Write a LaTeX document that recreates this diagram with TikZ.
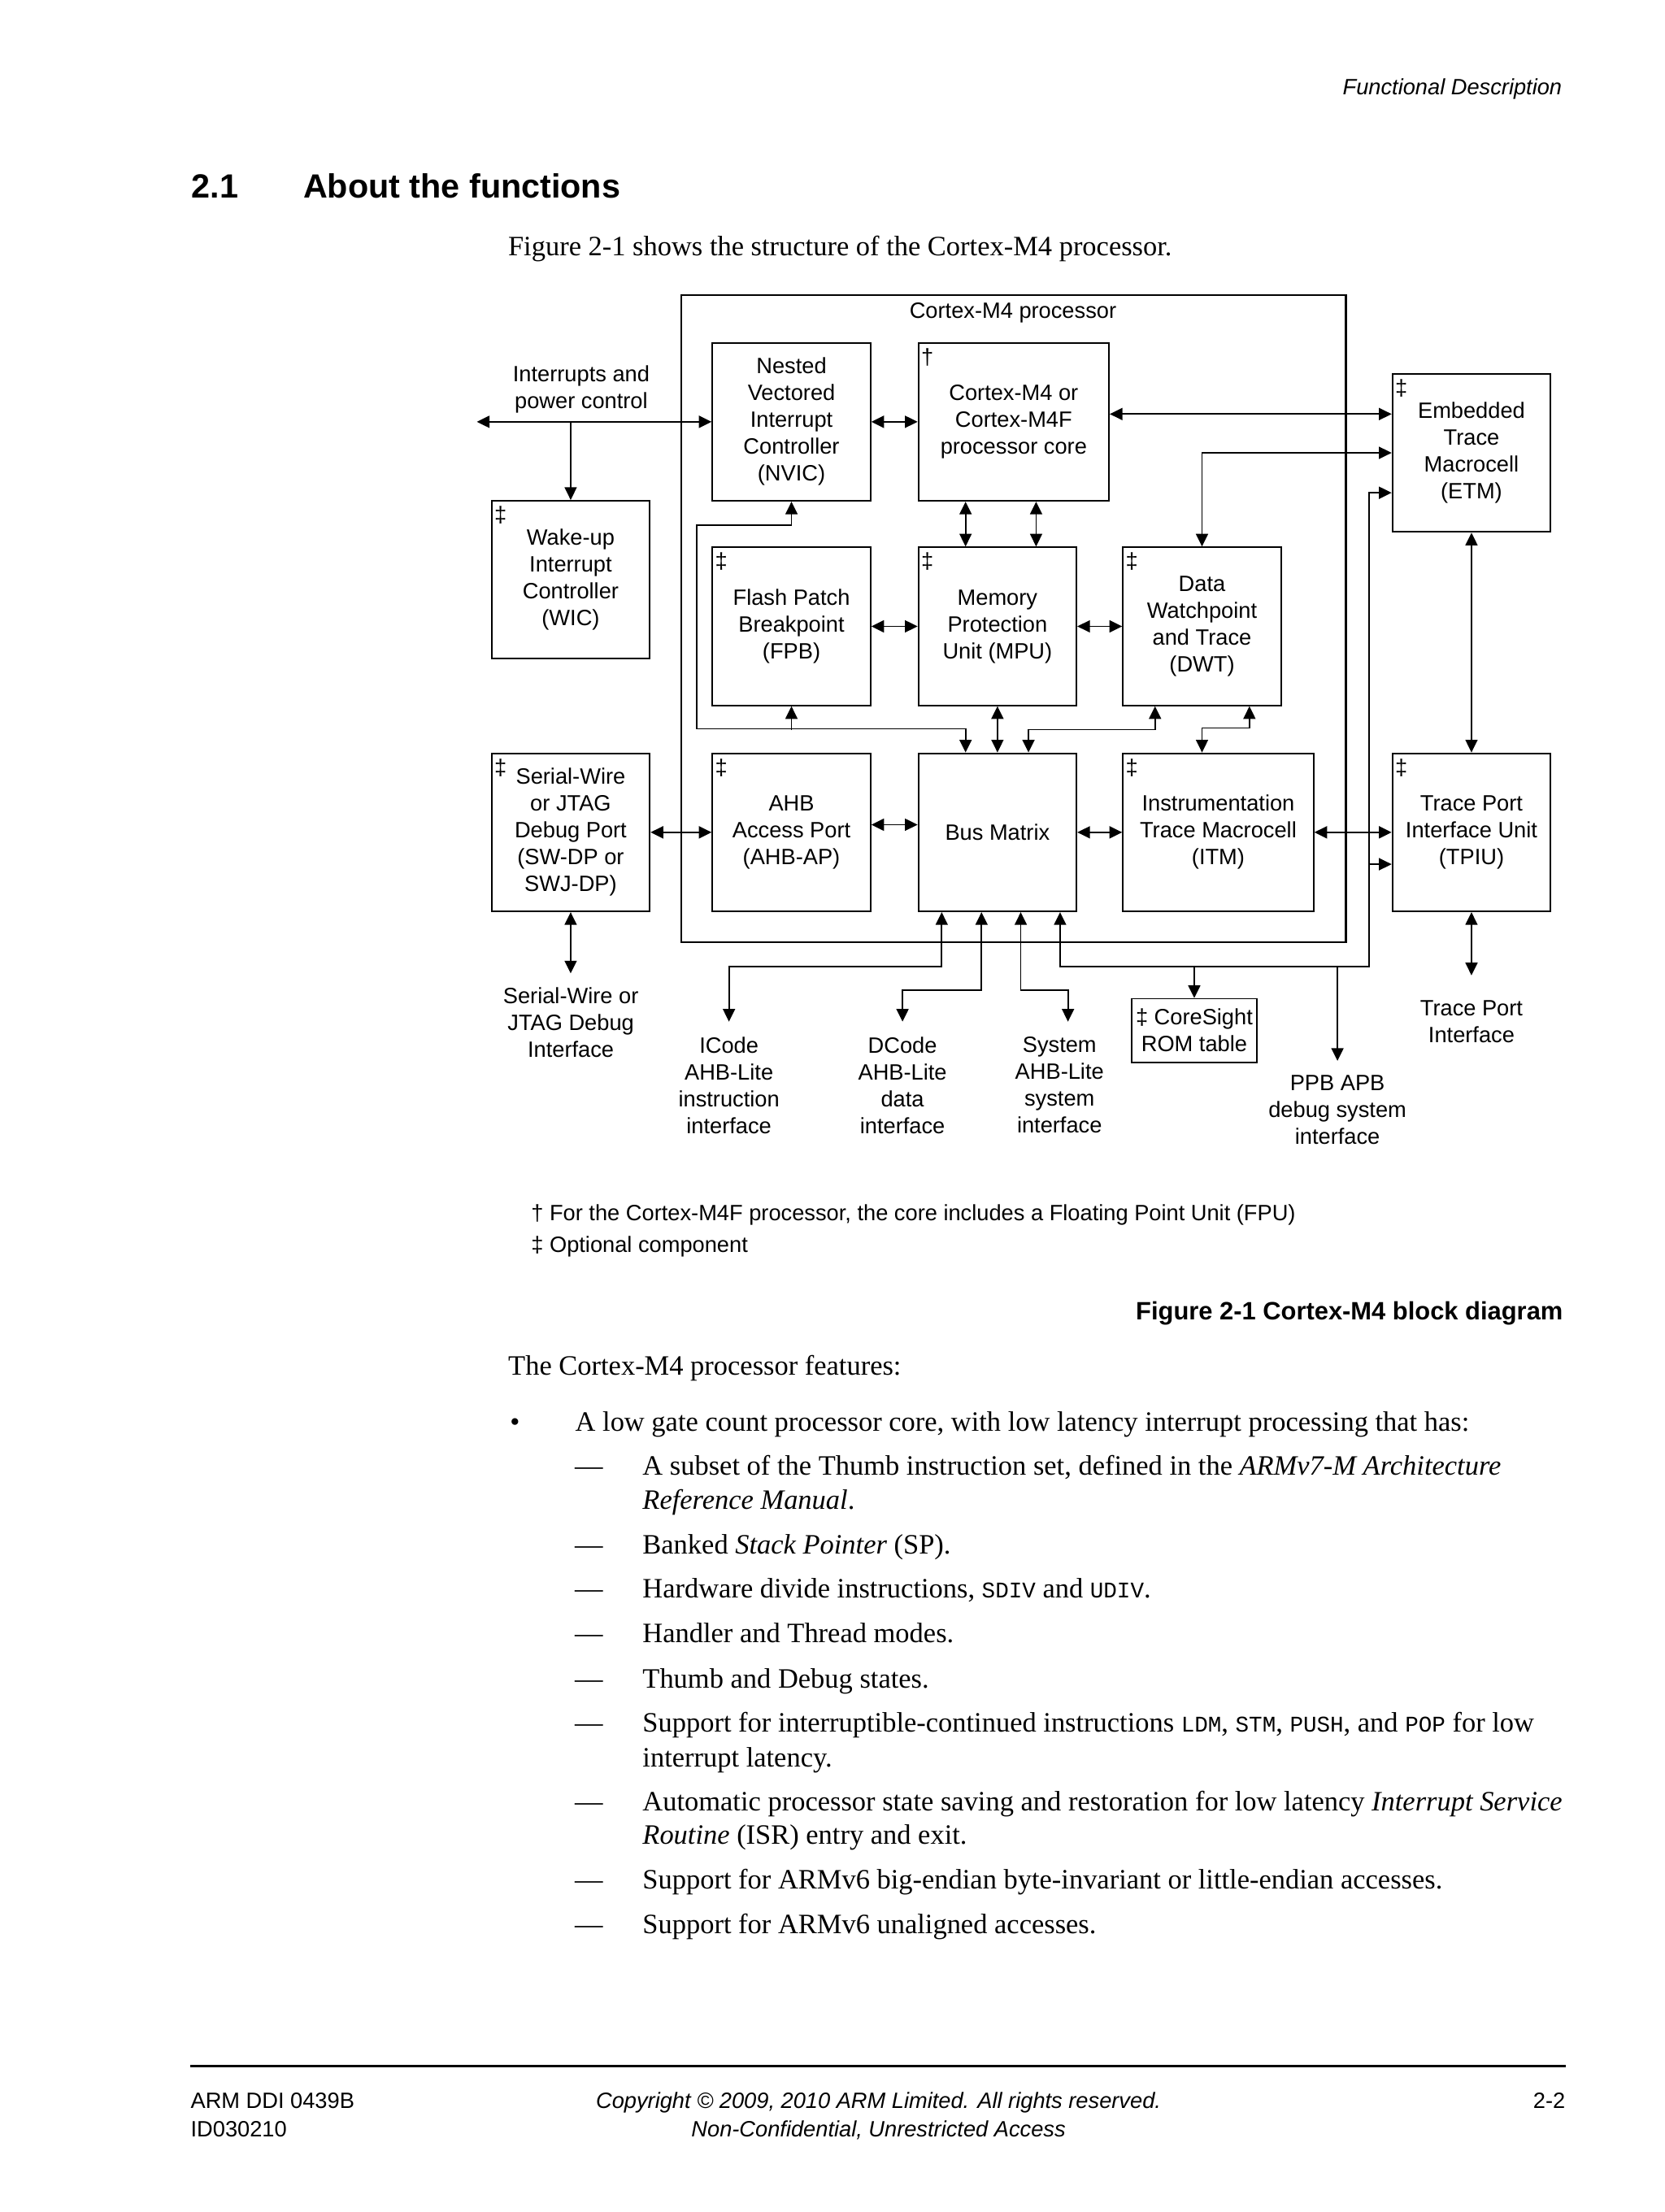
\documentclass[tikz,border=0pt]{standalone}
\usepackage{fontspec}
\setmainfont{Liberation Serif}
\setsansfont{Liberation Sans}
\setmonofont[Scale=0.8]{Liberation Mono}
\usetikzlibrary{arrows.meta,calc}

\newcommand{\dgfont}{\sffamily\fontsize{7.85}{9.5}\selectfont}

\tikzset{
  blk/.style={draw, line width=0.6pt, minimum width=56pt, minimum height=56pt,
    align=center, font=\dgfont, inner sep=1pt},
  corner/.style={anchor=north west, inner xsep=1pt, inner ysep=2pt, font=\dgfont},
  optc/.style={label={[corner]north west:#1}},
  lbl/.style={align=center, font=\dgfont, inner sep=0pt},
  note/.style={anchor=base west, inner sep=0pt, font=\sffamily\fontsize{7.85}{9.5}\selectfont},
  sec/.style={anchor=base west, inner sep=0pt, font=\sffamily\bfseries\fontsize{11.9}{14}\selectfont},
  body/.style={anchor=base west, inner sep=0pt, font=\rmfamily\fontsize{9.93}{12}\selectfont},
}

\begin{document}
\begin{tikzpicture}[x=0.5pt, y=-0.5pt, line width=0.5pt,
  >={Triangle[length=4.5pt,width=4.3pt]}]
\fill[white] (0,0) rectangle (1180,1568);
\useasboundingbox (0,0) rectangle (1180,1568);

% page head
\node[note, anchor=base east] (head) at (1107.6,67) {\itshape Functional Description};
\node[sec] (secno) at (135.4,140.3) {2.1};
\node[sec] (sectitle) at (214.5,140.3) {About the functions};
\node[body] (intro) at (359.7,181) {Figure 2-1 shows the structure of the Cortex-M4 processor.};

% processor frame
\node[draw, line width=0.6pt, minimum width=235.5pt, minimum height=229.5pt] (cpu) at (718.5,438.5) {};
\node[lbl] (cputxt) at (718,222) {Cortex-M4 processor};

% blocks
\node[blk] (nvic) at (561,299) {Nested\\Vectored\\Interrupt\\Controller\\(NVIC)};
\node[blk, minimum width=67.5pt, optc=†] (core) at (718.5,299) {Cortex-M4 or\\Cortex-M4F\\processor core};
\node[blk, optc=‡] (etm) at (1043,321) {Embedded\\Trace\\Macrocell\\(ETM)};
\node[blk, optc=‡] (wic) at (404.5,411) {Wake-up\\Interrupt\\Controller\\(WIC)};
\node[blk, optc=‡] (fpb) at (561,444) {Flash Patch\\Breakpoint\\(FPB)};
\node[blk, optc=‡] (mpu) at (707,444) {Memory\\Protection\\Unit (MPU)};
\node[blk, optc=‡] (dwt) at (852,444) {Data\\Watchpoint\\and Trace\\(DWT)};
\node[blk, optc=‡] (swdp) at (404.5,590) {Serial-Wire\\or JTAG\\Debug Port\\(SW-DP or\\SWJ-DP)};
\node[blk, optc=‡] (ahbap) at (561,590) {AHB\\Access Port\\(AHB-AP)};
\node[blk] (bus) at (707,590) {Bus Matrix};
\node[blk, minimum width=67.5pt, optc=‡] (itm) at (863.5,590) {Instrumentation\\Trace Macrocell\\(ITM)};
\node[blk, optc=‡] (tpiu) at (1043,590) {Trace Port\\Interface Unit\\(TPIU)};
\node[blk, line width=0.5pt, minimum width=44.5pt, minimum height=22.5pt] (rom) at (846.5,730.5) {‡ CoreSight\\ROM table};

% free ends
\coordinate (irq) at (338,299);
\coordinate (swj) at (404.5,690);
\coordinate (tpi) at (1043,691.4);
\coordinate (ic) at (516.7,724.2);
\coordinate (dc) at (639.7,724.2);
\coordinate (sc) at (757,724.2);
\coordinate (ppb) at (948,752);

% outside labels
\node[lbl] (irqtxt) at (412,276) {Interrupts and\\power control};
\node[lbl] (swjtxt) at (404.6,724.6) {Serial-Wire or\\JTAG Debug\\Interface};
\node[lbl] (ictxt) at (516.7,769.3) {ICode\\AHB-Lite\\instruction\\interface};
\node[lbl] (dctxt) at (639.7,769.3) {DCode\\AHB-Lite\\data\\interface};
\node[lbl] (sctxt) at (751,769.3) {System\\AHB-Lite\\system\\interface};
\node[lbl] (ppbtxt) at (948,786.5) {PPB APB\\debug system\\interface};
\node[lbl] (tpitxt) at (1043,724.2) {Trace Port\\Interface};

% connections
\draw[<->] (irq) -- (nvic.west);
\draw[->] (wic.north |- nvic.west) -- (wic.north);
\draw[<->] (nvic) -- (core);
\draw[<->] ($(core.east)+(0,-5.5)$) -- ($(etm.west)+(0,-27.5)$);
\draw[<->] (etm.west) -| (dwt.north);
\draw[<->] ($(core.south)+(-34.1,0)$) -- ($(mpu.north)+(-22.6,0)$);
\draw[<->] ($(core.south)+(15.9,0)$) -- ($(mpu.north)+(27.4,0)$);
\draw[<->] (fpb) -- (mpu);
\draw[<->] (mpu) -- (dwt);
\draw[<->] (mpu) -- (bus);
\draw[<->] (nvic.south) -- ++(0,16.7) -| (494,516.6) -| ($(bus.north)+(-22.6,0)$);
\draw[->] ($(fpb.south)+(0,16.6)$) -- (fpb.south);
\draw[<->] ($(bus.north)+(22,0)$) |- ($(dwt.south)+(-33.3,16.6)$) -- ($(dwt.south)+(-33.3,0)$);
\draw[<->] ($(dwt.south)+(33.6,0)$) |- ($(itm.north)+(-11.5,-17.4)$) -- ($(itm.north)+(-11.5,0)$);
\draw[<->] (swdp) -- (ahbap);
\draw[<->] ($(ahbap.east)+(0,-5.4)$) -- ($(bus.west)+(0,-5.4)$);
\draw[<->] (bus) -- (itm);
\draw[<->] (itm) -- (tpiu);
\draw[<->] (etm) -- (tpiu);
\draw[<->] (tpiu) -- (tpi);
\draw[<->] (swdp) -- (swj);

% bus matrix outputs
\draw[<->] ($(bus.south)+(-39.5,0)$) |- ($(ic)+(0,-39.2)$) -- (ic);
\draw[<->] ($(bus.south)+(-11.3,0)$) |- ($(dc)+(0,-22.2)$) -- (dc);
\draw[<->] ($(bus.south)+(16.5,0)$) |- ($(sc)+(0,-22.2)$) -- (sc);
\draw[<->] ($(bus.south)+(44.4,0)$) |- (970.6,685) |- ($(etm.west)+(0,28.3)$);
\draw[->] (970.6,612.6) -- ($(tpiu.west)+(0,22.6)$);
\draw[->] ($(rom.north)+(0,-23)$) -- (rom.north);
\draw[->] (948,685) -- (ppb);

% key and caption
\node[note] (fn1) at (376,865.5) {† For the Cortex-M4F processor, the core includes a Floating Point Unit (FPU)};
\node[note] (fn2) at (376,887.5) {‡ Optional component};
\node[note, anchor=base east, font=\sffamily\bfseries\fontsize{8.9}{11}\selectfont] (cap) at (1108.3,935.4) {Figure 2-1 Cortex-M4 block diagram};

% feature list
\node[body] (feat) at (359.8,975) {The Cortex-M4 processor features:};
\node[body] (bul) at (361,1014.6) {\textbullet};
\node[body] (top) at (407.3,1014.6) {A low gate count processor core, with low latency interrupt processing that has:};
\foreach \y/\t [count=\i] in {
  1045.4/{A subset of the Thumb instruction set, defined in the \textit{ARMv7-M Architecture}},
  1101.3/{Banked \textit{Stack Pointer} (SP).},
  1132.8/{Hardware divide instructions, \texttt{SDIV} and \texttt{UDIV}.},
  1164.6/{Handler and Thread modes.},
  1196.3/{Thumb and Debug states.},
  1227.8/{Support for interruptible-continued instructions \texttt{LDM}, \texttt{STM}, \texttt{PUSH}, and \texttt{POP} for low},
  1283.7/{Automatic processor state saving and restoration for low latency \textit{Interrupt Service}},
  1338.7/{Support for ARMv6 big-endian byte-invariant or little-endian accesses.},
  1370.5/{Support for ARMv6 unaligned accesses.}}
{
  \node[body] (dash\i) at (407,\y) {---};
  \node[body] (item\i) at (455,\y) {\t};
}
\node[body] (item1b) at (455,1069.6) {\textit{Reference Manual}.};
\node[body] (item6b) at (455,1252.2) {interrupt latency.};
\node[body] (item7b) at (455,1307.3) {\textit{Routine} (ISR) entry and exit.};

% page foot
\draw[line width=1pt] (134.7,1464.4) -- (1110,1464.4);
\node[note] (doc) at (134.7,1494.5) {ARM DDI 0439B};
\node[note] (docid) at (134.7,1514.5) {ID030210};
\node[note, anchor=base] (copy) at (622.7,1494.5) {\itshape Copyright © 2009, 2010 ARM Limited. All rights reserved.};
\node[note, anchor=base] (conf) at (622.7,1514.5) {\itshape Non-Confidential, Unrestricted Access};
\node[note, anchor=base east] (pg) at (1110,1494.5) {2-2};
\end{tikzpicture}
\end{document}
